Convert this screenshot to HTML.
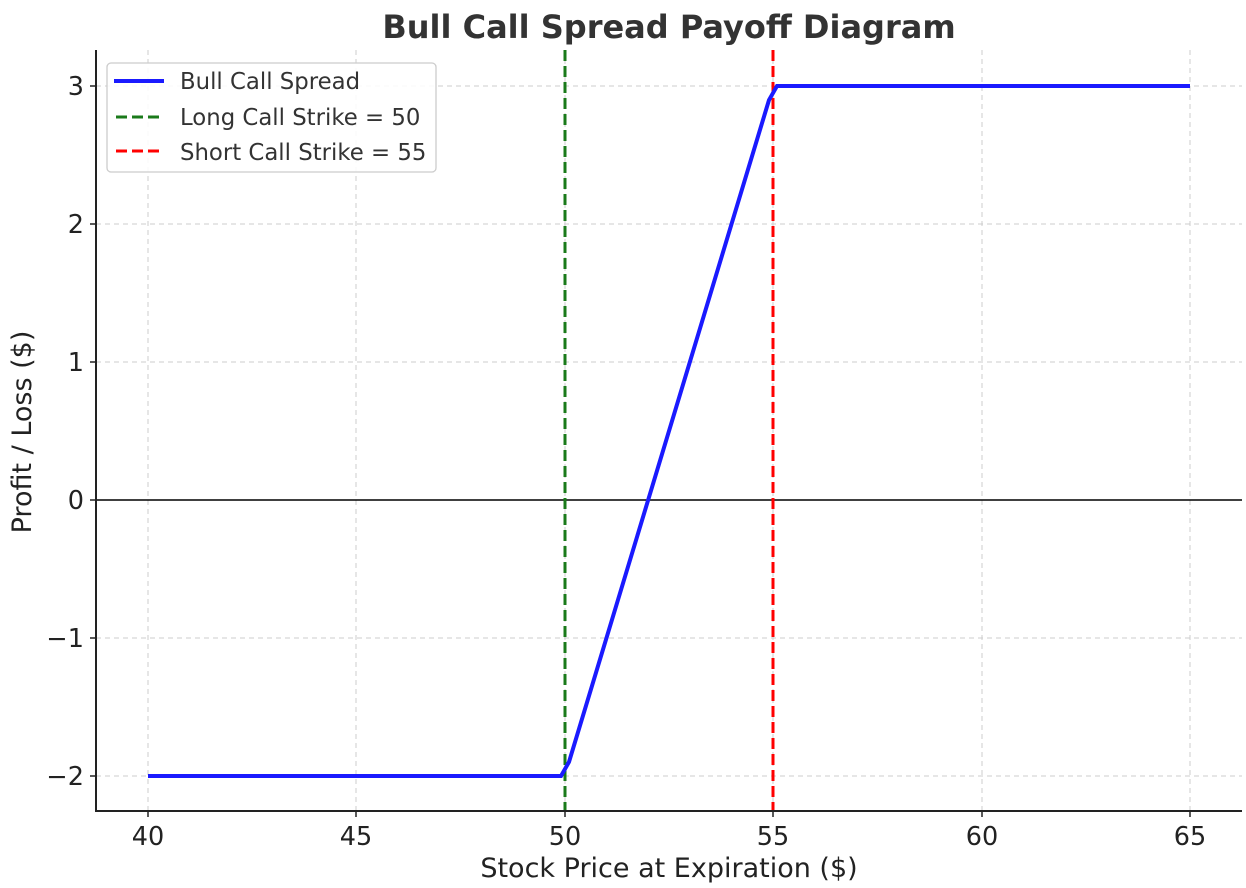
<!DOCTYPE html>
<html><head><style>body{margin:0;background:#fff}svg{display:block}</style></head><body>
<svg width="1246" height="888" xmlns="http://www.w3.org/2000/svg" font-family="DejaVu Sans, Liberation Sans, sans-serif">
<rect width="1246" height="888" fill="#fff"/>
<g stroke="#ccc" stroke-width="1" stroke-dasharray="5,4">
<line x1="148" y1="50" x2="148" y2="811"/><line x1="356" y1="50" x2="356" y2="811"/><line x1="565" y1="50" x2="565" y2="811"/><line x1="773" y1="50" x2="773" y2="811"/><line x1="982" y1="50" x2="982" y2="811"/><line x1="1190" y1="50" x2="1190" y2="811"/>
<line x1="96" y1="86" x2="1242" y2="86"/><line x1="96" y1="224" x2="1242" y2="224"/><line x1="96" y1="362" x2="1242" y2="362"/><line x1="96" y1="638" x2="1242" y2="638"/><line x1="96" y1="776" x2="1242" y2="776"/>
</g>
<line x1="96" y1="500" x2="1242" y2="500" stroke="#000" stroke-width="1.5"/>
<line x1="565" y1="50" x2="565" y2="811" stroke="#1a7a1a" stroke-width="3" stroke-dasharray="11,5"/>
<line x1="773" y1="50" x2="773" y2="811" stroke="#ff0000" stroke-width="3" stroke-dasharray="11,5"/>
<polyline points="148,776 561,776 569,762 769,100 777,86 1190,86" fill="none" stroke="#1a1aff" stroke-width="4"/>
<line x1="96" y1="50" x2="96" y2="812" stroke="#222" stroke-width="2"/>
<line x1="95" y1="811" x2="1242" y2="811" stroke="#222" stroke-width="2"/>
<g stroke="#222" stroke-width="1.5">
<line x1="148" y1="811" x2="148" y2="817"/><line x1="356" y1="811" x2="356" y2="817"/><line x1="565" y1="811" x2="565" y2="817"/><line x1="773" y1="811" x2="773" y2="817"/><line x1="982" y1="811" x2="982" y2="817"/><line x1="1190" y1="811" x2="1190" y2="817"/>
<line x1="90" y1="86" x2="96" y2="86"/><line x1="90" y1="224" x2="96" y2="224"/><line x1="90" y1="362" x2="96" y2="362"/><line x1="90" y1="500" x2="96" y2="500"/><line x1="90" y1="638" x2="96" y2="638"/><line x1="90" y1="776" x2="96" y2="776"/>
</g>
<g font-size="25.5" fill="#222" text-anchor="middle">
<text x="148" y="845">40</text><text x="356" y="845">45</text><text x="565" y="845">50</text><text x="773" y="845">55</text><text x="982" y="845">60</text><text x="1190" y="845">65</text>
</g>
<g font-size="25.5" fill="#222" text-anchor="end">
<text x="84" y="95">3</text><text x="84" y="233">2</text><text x="84" y="371">1</text><text x="84" y="509">0</text><text x="84" y="647">−1</text><text x="84" y="785">−2</text>
</g>
<text x="669" y="877" font-size="27" fill="#222" text-anchor="middle">Stock Price at Expiration ($)</text>
<text transform="translate(31,432) rotate(-90)" font-size="27" fill="#222" text-anchor="middle">Profit / Loss ($)</text>
<text x="669" y="38" font-size="32" font-weight="bold" fill="#333" text-anchor="middle">Bull Call Spread Payoff Diagram</text>
<rect x="107" y="63" width="329" height="109" rx="4" fill="#fff" fill-opacity="0.85" stroke="#ccc" stroke-width="1.3"/>
<line x1="114" y1="81" x2="164" y2="81" stroke="#1a1aff" stroke-width="4"/>
<line x1="116" y1="117" x2="164" y2="117" stroke="#1a7a1a" stroke-width="3" stroke-dasharray="11,5"/>
<line x1="116" y1="151" x2="164" y2="151" stroke="#ff0000" stroke-width="3" stroke-dasharray="11,5"/>
<g font-size="22.8" fill="#333">
<text x="180" y="89">Bull Call Spread</text><text x="180" y="125">Long Call Strike = 50</text><text x="180" y="160">Short Call Strike = 55</text>
</g>
</svg>
</body></html>
